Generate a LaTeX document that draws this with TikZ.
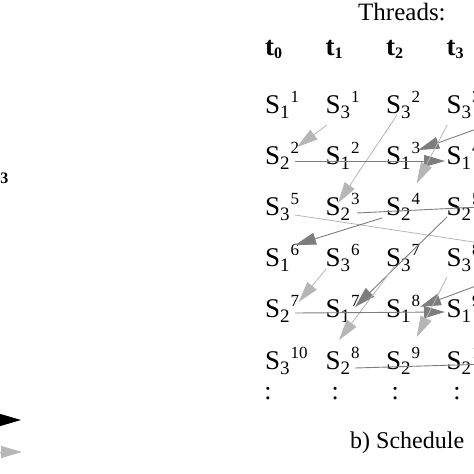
\documentclass[tikz,border=0pt]{standalone}
\usepackage{fontspec}
\setmainfont{Liberation Serif}
\usetikzlibrary{arrows.meta}
\definecolor{depdark}{RGB}{125,125,125}
\definecolor{deplight}{RGB}{182,182,182}
\newcommand{\subsz}{\fontsize{19}{19}\selectfont}
\newcommand{\supsz}{\fontsize{17}{17}\selectfont}
\newcommand{\stmt}[2]{S\raisebox{-5pt}{\subsz #1}\kern0.8pt\raisebox{11pt}{\supsz #2}}
\newcommand{\thr}[1]{\textbf{t}\raisebox{-3pt}{\fontsize{16}{16}\selectfont\bfseries #1}}

\begin{document}
\begin{tikzpicture}[x=1pt, y=-1pt,
  stmtnode/.style={anchor=base west, inner sep=0pt, font=\fontsize{27}{27}\selectfont},
  dotnode/.style={anchor=base, inner sep=0pt, font=\fontsize{26}{26}\selectfont},
  darkdep/.style={depdark, line width=0.9pt, -{Triangle[length=21pt,width=12pt]}},
  lightdep/.style={deplight, line width=0.8pt, -{Triangle[length=21pt,width=12pt]}}]
\useasboundingbox (0,0) rectangle (474,474);
\clip (0,0) rectangle (474,474);

\node[anchor=base east, inner sep=0pt, font=\fontsize{16}{16}\selectfont\bfseries] (athr) at (8.5,183) {3};
\coordinate (blacks) at (-40,420);
\coordinate (blacke) at (21,420);
\coordinate (grays) at (-40,452);
\coordinate (graye) at (22,452);
\draw[black, line width=0.9pt, -{Triangle[length=21pt,width=12pt]}] (blacks) -- (blacke);
\draw[lightdep] (grays) -- (graye);

\node[anchor=base west, inner sep=0pt, font=\fontsize{25}{25}\selectfont] (threads) at (358,20) {Threads:};
\node[stmtnode] (t0) at (265,55) {\thr{0}};
\node[stmtnode] (t1) at (325.5,55) {\thr{1}};
\node[stmtnode] (t2) at (386,55) {\thr{2}};
\node[stmtnode] (t3) at (446.5,55) {\thr{3}};

\node[stmtnode] (r1c0) at (265,113) {\stmt{1}{1}};
\node[stmtnode] (r1c1) at (325.5,113) {\stmt{3}{1}};
\node[stmtnode] (r1c2) at (386,113) {\stmt{3}{2}};
\node[stmtnode] (r1c3) at (446.5,113) {\stmt{3}{3}};
\node[stmtnode] (r2c0) at (265,164.2) {\stmt{2}{2}};
\node[stmtnode] (r2c1) at (325.5,164.2) {\stmt{1}{2}};
\node[stmtnode] (r2c2) at (386,164.2) {\stmt{1}{3}};
\node[stmtnode] (r2c3) at (446.5,164.2) {\stmt{1}{4}};
\node[stmtnode] (r3c0) at (265,215.4) {\stmt{3}{5}};
\node[stmtnode] (r3c1) at (325.5,215.4) {\stmt{2}{3}};
\node[stmtnode] (r3c2) at (386,215.4) {\stmt{2}{4}};
\node[stmtnode] (r3c3) at (446.5,215.4) {\stmt{2}{5}};
\node[stmtnode] (r4c0) at (265,266.6) {\stmt{1}{6}};
\node[stmtnode] (r4c1) at (325.5,266.6) {\stmt{3}{6}};
\node[stmtnode] (r4c2) at (386,266.6) {\stmt{3}{7}};
\node[stmtnode] (r4c3) at (446.5,266.6) {\stmt{3}{8}};
\node[stmtnode] (r5c0) at (265,317.8) {\stmt{2}{7}};
\node[stmtnode] (r5c1) at (325.5,317.8) {\stmt{1}{7}};
\node[stmtnode] (r5c2) at (386,317.8) {\stmt{1}{8}};
\node[stmtnode] (r5c3) at (446.5,317.8) {\stmt{1}{9}};
\node[stmtnode] (r6c0) at (265,369) {\stmt{3}{10}};
\node[stmtnode] (r6c1) at (325.5,369) {\stmt{2}{8}};
\node[stmtnode] (r6c2) at (386,369) {\stmt{2}{9}};
\node[stmtnode] (r6c3) at (446.5,369) {\stmt{2}{10}};

\node[dotnode] (d0) at (268,399) {:};
\node[dotnode] (d1) at (335.3,399) {:};
\node[dotnode] (d2) at (395.3,399) {:};
\node[dotnode] (d3) at (457,399) {:};

\node[anchor=base west, inner sep=0pt, font=\fontsize{24}{24}\selectfont] (caption) at (350,448.7) {b) Schedule};

\coordinate (in1) at (500,120.5);
\coordinate (out1) at (500,206);
\coordinate (out2) at (500,246);
\coordinate (in2) at (500,277);
\coordinate (out3) at (500,363.7);

\draw[lightdep] ([shift={(1.5,12)}]r1c1.base west) -- ([shift={(32,-17.2)}]r2c0.base west);
\draw[lightdep] ([shift={(11,2)}]r1c2.base west) -- ([shift={(12.5,-12.4)}]r3c1.base west);
\draw[darkdep] ([shift={(30,-3.2)}]r2c0.base west) -- ([shift={(-1.5,-3.2)}]r2c3.base west);
\draw[darkdep] (in1) -- ([shift={(32.3,-14.2)}]r2c2.base west);
\draw[lightdep] ([shift={(0.7,12)}]r1c3.base west) -- ([shift={(30.7,-32)}]r3c2.base west);
\draw[darkdep] ([shift={(31.5,-2.4)}]r3c1.base west) -- (out1);
\draw[lightdep] ([shift={(30,-0.4)}]r3c0.base west) -- (out2);
\draw[darkdep] ([shift={(-4,2.6)}]r3c2.base west) -- ([shift={(30,-21.6)}]r4c0.base west);
\draw[darkdep] ([shift={(0.5,1.6)}]r3c3.base west) -- ([shift={(29.5,-10.8)}]r5c1.base west);
\draw[lightdep] ([shift={(8,0.4)}]r4c2.base west) -- ([shift={(13.5,-29)}]r6c1.base west);
\draw[lightdep] ([shift={(0.8,2.1)}]r4c1.base west) -- ([shift={(33.7,-15.8)}]r5c0.base west);
\draw[darkdep] ([shift={(30,-4.8)}]r5c0.base west) -- ([shift={(-1.5,-5.8)}]r5c3.base west);
\draw[darkdep] (in2) -- ([shift={(34,-11)}]r5c2.base west);
\draw[lightdep] ([shift={(0.5,10.4)}]r4c3.base west) -- ([shift={(30.7,-32)}]r6c2.base west);
\draw[darkdep] ([shift={(29.5,-1)}]r6c1.base west) -- (out3);
\end{tikzpicture}
\end{document}
